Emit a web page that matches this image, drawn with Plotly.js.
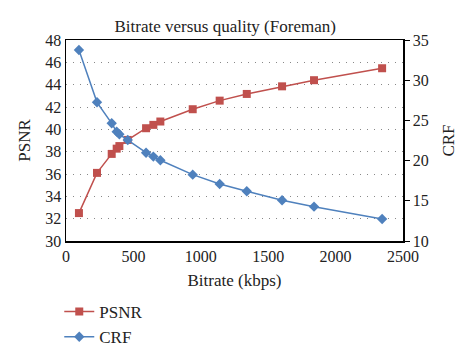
<!DOCTYPE html>
<html>
<head>
<meta charset="utf-8">
<script src="https://cdn.plot.ly/plotly-3.0.1.min.js"></script>
<style>html,body{margin:0;padding:0;background:#fff;}#chart{width:474px;height:363px;}</style>
</head>
<body>
<div id="chart"></div>
<script>
var bitrate = [96, 230, 339, 376, 396, 458, 594, 648, 700, 940, 1140, 1341, 1603, 1840, 2345];
var psnr = [32.5, 36.1, 37.8, 38.27, 38.5, 39.05, 40.1, 40.4, 40.7, 41.8, 42.57, 43.17, 43.85, 44.4, 45.47];
var crf = [33.76, 27.25, 24.64, 23.6, 23.27, 22.56, 20.98, 20.5, 20.04, 18.25, 17.09, 16.18, 15.06, 14.27, 12.74];

var serif = "Liberation Serif, Times New Roman, serif";
var traces = [
  {x: bitrate, y: psnr, name: "PSNR", type: "scatter", mode: "lines+markers",
   line: {color: "#c0504d", width: 1.5}, marker: {symbol: "square", size: 8, color: "#c0504d"}},
  {x: bitrate, y: crf, name: "CRF", type: "scatter", mode: "lines+markers", yaxis: "y2",
   line: {color: "#4f81bd", width: 1.5}, marker: {symbol: "diamond", size: 8, color: "#4f81bd"}}
];
var layout = {
  width: 474, height: 363,
  margin: {l: 66, r: 71, t: 40, b: 122},
  paper_bgcolor: "#fff", plot_bgcolor: "#fff",
  font: {family: serif, size: 16, color: "#222"},
  title: {text: "Bitrate versus quality (Foreman)", x: 0.475, xanchor: "center", y: 0.927, yanchor: "middle", font: {family: serif, size: 17, color: "#222"}},
  showlegend: true,
  legend: {x: -0.02, xref: "paper", y: 0.19, yref: "container", xanchor: "left", yanchor: "top", orientation: "v", font: {family: serif, size: 17, color: "#222"}, bgcolor: "rgba(0,0,0,0)"},
  xaxis: {range: [0, 2500], dtick: 500, tick0: 0, showgrid: false, zeroline: false, automargin: false,
    showline: true, linecolor: "#000", linewidth: 1.5, mirror: true, ticks: "",
    tickfont: {family: serif, size: 16, color: "#222"},
    title: {text: "Bitrate (kbps)", standoff: 10, font: {family: serif, size: 17, color: "#222"}}},
  yaxis: {range: [30, 48], dtick: 2, tick0: 30, showgrid: true, gridcolor: "#888", gridwidth: 1, griddash: "1px,6px",
    zeroline: false, showline: true, linecolor: "#000", linewidth: 1.5, mirror: true, ticks: "", automargin: false,
    tickfont: {family: serif, size: 16, color: "#222"},
    title: {text: "PSNR", standoff: 10, font: {family: serif, size: 17, color: "#222"}}},
  yaxis2: {range: [10, 35], dtick: 5, tick0: 10, overlaying: "y", side: "right", showgrid: false, zeroline: false, automargin: false,
    showline: true, linecolor: "#000", linewidth: 1.5, ticks: "outside", ticklen: 5, tickcolor: "#000",
    tickfont: {family: serif, size: 16, color: "#222"},
    title: {text: "CRF", standoff: 14, font: {family: serif, size: 17, color: "#222"}}}
};
Plotly.newPlot("chart", traces, layout, {displayModeBar: false, staticPlot: true});
</script>
</body>
</html>
